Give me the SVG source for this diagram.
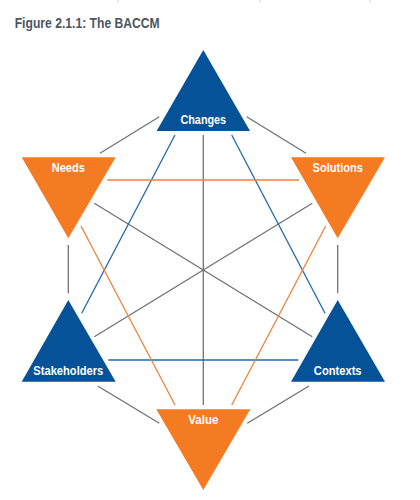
<svg xmlns="http://www.w3.org/2000/svg" width="420" height="500" viewBox="0 0 420 500">
  <style>
    .blue { fill: #065299; }
    .orange { fill: #f47b22; }
    .lbl { font-family: "Liberation Sans", Arial, sans-serif; font-weight: bold; font-size: 13px; fill: #ffffff; text-anchor: middle; }
    .title { font-family: "Liberation Sans", Arial, sans-serif; font-weight: bold; font-size: 14px; fill: #4b5662; }
    .gray { stroke: #707275; stroke-width: 1.3; fill: none; }
    .bl { stroke: #2566ad; stroke-width: 1.3; fill: none; }
    .or { stroke: #f0823a; stroke-width: 1.3; fill: none; }
    .edge { stroke: #d6d6d6; stroke-width: 1; }
  </style>
  <rect width="420" height="500" fill="#ffffff"/>
  <g id="page-marks">
    <line class="edge" x1="118" y1="0" x2="118" y2="3"/>
    <line class="edge" x1="260" y1="0" x2="260" y2="3"/>
    <line class="edge" x1="370" y1="0" x2="370" y2="3"/>
  </g>
  <text class="title" x="14.7" y="28.3" textLength="145" lengthAdjust="spacingAndGlyphs">Figure 2.1.1: The BACCM</text>

  <g id="connectors">
    <!-- outer hexagon (gray) -->
    <line class="gray" x1="159.3" y1="116.7" x2="100" y2="153.3"/>
    <line class="gray" x1="246.7" y1="116.7" x2="306" y2="153.3"/>
    <line class="gray" x1="68.3" y1="245" x2="68.3" y2="293.3"/>
    <line class="gray" x1="337.7" y1="245" x2="337.7" y2="293.3"/>
    <line class="gray" x1="97.7" y1="386" x2="159.3" y2="423.3"/>
    <line class="gray" x1="309" y1="386" x2="247.3" y2="423.3"/>
    <!-- opposite diagonals (gray) -->
    <line class="gray" x1="203.3" y1="135" x2="203.3" y2="405"/>
    <line class="gray" x1="94.3" y1="203.3" x2="312.3" y2="336.7"/>
    <line class="gray" x1="312.3" y1="203.3" x2="94.3" y2="336.7"/>
    <!-- blue triangle -->
    <line class="bl" x1="175" y1="135" x2="81.7" y2="313.3"/>
    <line class="bl" x1="231.7" y1="135" x2="325" y2="313.3"/>
    <line class="bl" x1="108.3" y1="360" x2="298.3" y2="360"/>
    <!-- orange triangle -->
    <line class="or" x1="107.3" y1="180" x2="299" y2="180"/>
    <line class="or" x1="81" y1="226" x2="175" y2="405"/>
    <line class="or" x1="325.7" y1="226" x2="231.7" y2="405"/>
  </g>

  <g id="changes">
    <polygon class="blue" points="203.3,50 250,131 156.6,131"/>
    <text class="lbl" x="203.3" y="124" textLength="45.7" lengthAdjust="spacingAndGlyphs">Changes</text>
  </g>
  <g id="needs">
    <polygon class="orange" points="21.7,157.3 115.7,157.3 68.3,238.3"/>
    <text class="lbl" x="68.3" y="171.7" textLength="33.3" lengthAdjust="spacingAndGlyphs">Needs</text>
  </g>
  <g id="solutions">
    <polygon class="orange" points="291,157.3 385,157.3 337.7,238.3"/>
    <text class="lbl" x="337.7" y="171.7" textLength="50.3" lengthAdjust="spacingAndGlyphs">Solutions</text>
  </g>
  <g id="stakeholders">
    <polygon class="blue" points="68.3,300 115.7,381.7 21.7,381.7"/>
    <text class="lbl" x="68.3" y="375" textLength="70" lengthAdjust="spacingAndGlyphs">Stakeholders</text>
  </g>
  <g id="contexts">
    <polygon class="blue" points="337.7,300 385,381.7 291,381.7"/>
    <text class="lbl" x="337.7" y="375" textLength="47.7" lengthAdjust="spacingAndGlyphs">Contexts</text>
  </g>
  <g id="value">
    <polygon class="orange" points="156.3,409.3 250.3,409.3 203.3,490"/>
    <text class="lbl" x="203.3" y="424" textLength="30" lengthAdjust="spacingAndGlyphs">Value</text>
  </g>
</svg>
